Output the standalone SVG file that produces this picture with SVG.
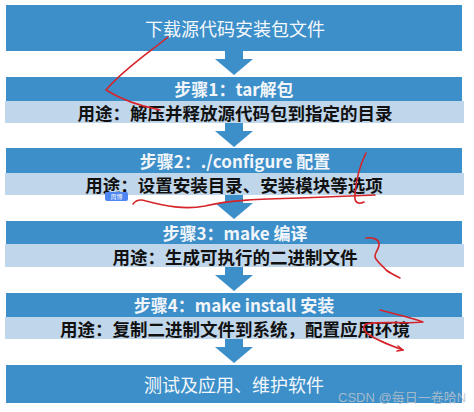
<svg xmlns="http://www.w3.org/2000/svg" width="474" height="412" viewBox="0 0 474 412">
<style>
.box{fill:#3d8fc9}
.band{fill:#c0d6ea}
.big{font-family:"Noto Sans CJK SC","Noto Sans",sans-serif;font-size:18px;fill:#f4f8fc;text-anchor:middle;dominant-baseline:central}
.hd{font-family:"Noto Sans CJK SC","Noto Sans",sans-serif;font-size:17px;font-weight:bold;fill:#f2f6fa;text-anchor:middle;dominant-baseline:central}
.use{font-family:"Noto Sans CJK SC","Noto Sans",sans-serif;font-size:17.5px;font-weight:bold;fill:#111;text-anchor:middle;dominant-baseline:central}
.red{fill:none;stroke:#d6242a;stroke-width:1.6;stroke-linecap:round;stroke-linejoin:round}
.arrow{fill:#3d8fc9}
</style>
<defs>
<path id="arr" d="M225,0 H243 V8 H253 L234,24 L215,8 H225 Z"/>
</defs>
<rect width="474" height="412" fill="#ffffff"/>
<g id="connectors">
<use href="#arr" class="arrow" y="51"/>
<use href="#arr" class="arrow" y="123"/>
<use href="#arr" class="arrow" y="195"/>
<use href="#arr" class="arrow" y="267"/>
<use href="#arr" class="arrow" y="339"/>
</g>
<g id="download">
<rect class="box" x="6" y="5" width="456" height="46"/>
<text class="big" x="235" y="28">下载源代码安装包文件</text>
</g>
<g id="step1">
<rect class="box" x="6" y="77" width="456" height="24"/>
<rect class="band" x="5" y="101" width="459" height="22"/>
<text class="hd" x="234" y="88.5">步骤1：tar解包</text>
<text class="use" x="235" y="112.5">用途：解压并释放源代码包到指定的目录</text>
</g>
<g id="step2">
<rect class="box" x="6" y="148" width="456" height="25"/>
<rect class="band" x="5" y="173" width="459" height="22"/>
<text class="hd" x="235" y="160">步骤2：./configure 配置</text>
<text class="use" x="234" y="184.5">用途：设置安装目录、安装模块等选项</text>
</g>
<g id="step3">
<rect class="box" x="6" y="221" width="456" height="23"/>
<rect class="band" x="5" y="244" width="459" height="23"/>
<text class="hd" x="235" y="232">步骤3：make 编译</text>
<text class="use" x="235" y="256">用途：生成可执行的二进制文件</text>
</g>
<g id="step4">
<rect class="box" x="6" y="293" width="456" height="24"/>
<rect class="band" x="5" y="317" width="459" height="22"/>
<text class="hd" x="234" y="304.5">步骤4：make install 安装</text>
<text class="use" x="235" y="328.5">用途：复制二进制文件到系统，配置应用环境</text>
</g>
<g id="test">
<rect class="box" x="6" y="365" width="456" height="38"/>
<text class="big" x="234" y="384">测试及应用、维护软件</text>
</g>
<g id="annotations">
<path class="red" d="M168,37 C150,52 125,68 106,90 C122,100 140,106 160,110"/>
<path class="red" d="M133,204 C136,200 140,199 146,201 C165,206 185,210 205,206 C230,200 260,199 300,198 C330,197 355,196 375,195"/>
<path class="red" d="M366,153 C360,165 356,180 355,195 C354,202 358,205 364,202"/>
<path class="red" d="M366,238 C372,237 378,239 379,243 C380,250 372,254 376,259 C380,265 385,268 386,270 C390,273 396,276 400,278"/>
<path class="red" d="M380,310 C395,314 412,318 423,322 C405,324 380,321 366,324 C358,330 370,338 403,350"/>
<path class="red" d="M398,346 L403,350 L397,351"/>
<rect x="105" y="192" width="23" height="9" rx="2" fill="#4d86f0"/>
<text x="116.5" y="196.5" font-family="'Noto Sans CJK SC',sans-serif" font-size="6px" fill="#ffffff" text-anchor="middle" dominant-baseline="central">周博</text>
<text x="338" y="402" font-family="'Liberation Sans','Noto Sans CJK SC',sans-serif" font-size="13px" fill="#b8c2cc" fill-opacity="0.85">CSDN @每日一卷哈N</text>
</g>
</svg>
